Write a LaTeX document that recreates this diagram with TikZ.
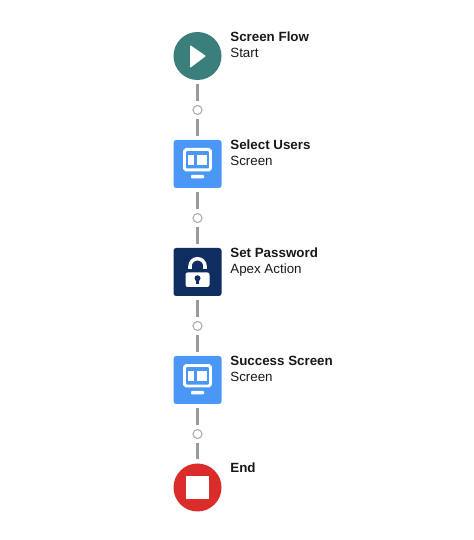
\documentclass[tikz,border=0pt]{standalone}
\usepackage{fontspec}
\setmainfont{Liberation Sans}
\usepackage{xcolor}
\usetikzlibrary{arrows.meta}
\definecolor{startteal}{HTML}{3A7F7B}
\definecolor{screenblue}{HTML}{4A97F5}
\definecolor{actionnavy}{HTML}{0F2D60}
\definecolor{endred}{HTML}{DB2C2C}
\definecolor{linegray}{HTML}{9A9A9A}
\definecolor{labelink}{HTML}{16181C}

\begin{document}
\begin{tikzpicture}[
  every node/.style={font=\fontsize{7.6}{9}\selectfont, text=labelink},
  roundstep/.style={circle, minimum size=0.96cm, inner sep=0pt},
  boxstep/.style={rectangle, rounded corners=1.5pt, minimum size=0.96cm, inner sep=0pt},
  junction/.style={circle, draw=linegray!85, line width=0.6pt, fill=white, minimum size=0.18cm, inner sep=0pt},
  flowline/.style={draw=linegray, line width=1.3pt, shorten >=0.08cm, shorten <=0.08cm},
  steptitle/.style={anchor=base west, inner sep=0pt, font=\fontsize{7.6}{9}\selectfont\bfseries},
  stepkind/.style={anchor=base west, inner sep=0pt},
  screenicon/.pic={
    \draw[white, line width=1.7pt, rounded corners=1pt] (-0.26,0.29) rectangle (0.26,-0.12);
    \fill[white] (-0.19,0.18) rectangle (-0.08,-0.02);
    \fill[white] (-0.02,0.18) rectangle (0.19,-0.02);
    \fill[white, rounded corners=0.5pt] (-0.13,-0.22) rectangle (0.13,-0.29);
  },
]
\useasboundingbox (0,0) rectangle (9.48,10.8);

%%% Steps %%%
\node[roundstep, fill=startteal] (screenflow) at (3.95,9.68) {};
\node[boxstep, fill=screenblue] (selectusers) at (3.95,7.52) {};
\node[boxstep, fill=actionnavy] (setpassword) at (3.95,5.36) {};
\node[boxstep, fill=screenblue] (successscreen) at (3.95,3.20) {};
\node[roundstep, fill=endred] (finish) at (3.95,1.05) {};

%%% Junctions %%%
\node[junction] (j1) at (3.95,8.60) {};
\node[junction] (j2) at (3.95,6.44) {};
\node[junction] (j3) at (3.95,4.28) {};
\node[junction] (j4) at (3.95,2.12) {};

% Connectors
\foreach \a/\b in {screenflow/j1, j1/selectusers, selectusers/j2, j2/setpassword,
                   setpassword/j3, j3/successscreen, successscreen/j4, j4/finish} {
  \draw[flowline] (\a) -- (\b);
}

% Play icon
\fill[white, rounded corners=0.5pt] (3.80,9.90) -- (4.12,9.68) -- (3.80,9.44) -- cycle;

% Screen icons
\pic at (selectusers) {screenicon};
\pic at (successscreen) {screenicon};

% Lock icon
\draw[white, line width=2pt] (3.80,5.42) -- (3.80,5.476) arc (180:0:0.15) -- (4.10,5.42);
\fill[white, rounded corners=1.2pt] (3.71,5.35) rectangle (4.19,5.06);
\fill[actionnavy] (3.95,5.235) circle (0.06);
\fill[actionnavy] (3.92,5.235) rectangle (3.98,5.11);

% Stop icon
\fill[white] (3.72,0.82) rectangle (4.18,1.28);

%%% Labels %%%
\node[steptitle] (screenflowtitle) at (4.60,9.96) {Screen Flow};
\node[stepkind] (screenflowkind) at (4.60,9.64) {Start};
\node[steptitle] (selectuserstitle) at (4.60,7.81) {Select Users};
\node[stepkind] (selectuserskind) at (4.60,7.49) {Screen};
\node[steptitle] (setpasswordtitle) at (4.60,5.65) {Set Password};
\node[stepkind] (setpasswordkind) at (4.60,5.33) {Apex Action};
\node[steptitle] (successscreentitle) at (4.60,3.49) {Success Screen};
\node[stepkind] (successscreenkind) at (4.60,3.17) {Screen};
\node[steptitle] (finishtitle) at (4.60,1.34) {End};

\end{tikzpicture}
\end{document}
